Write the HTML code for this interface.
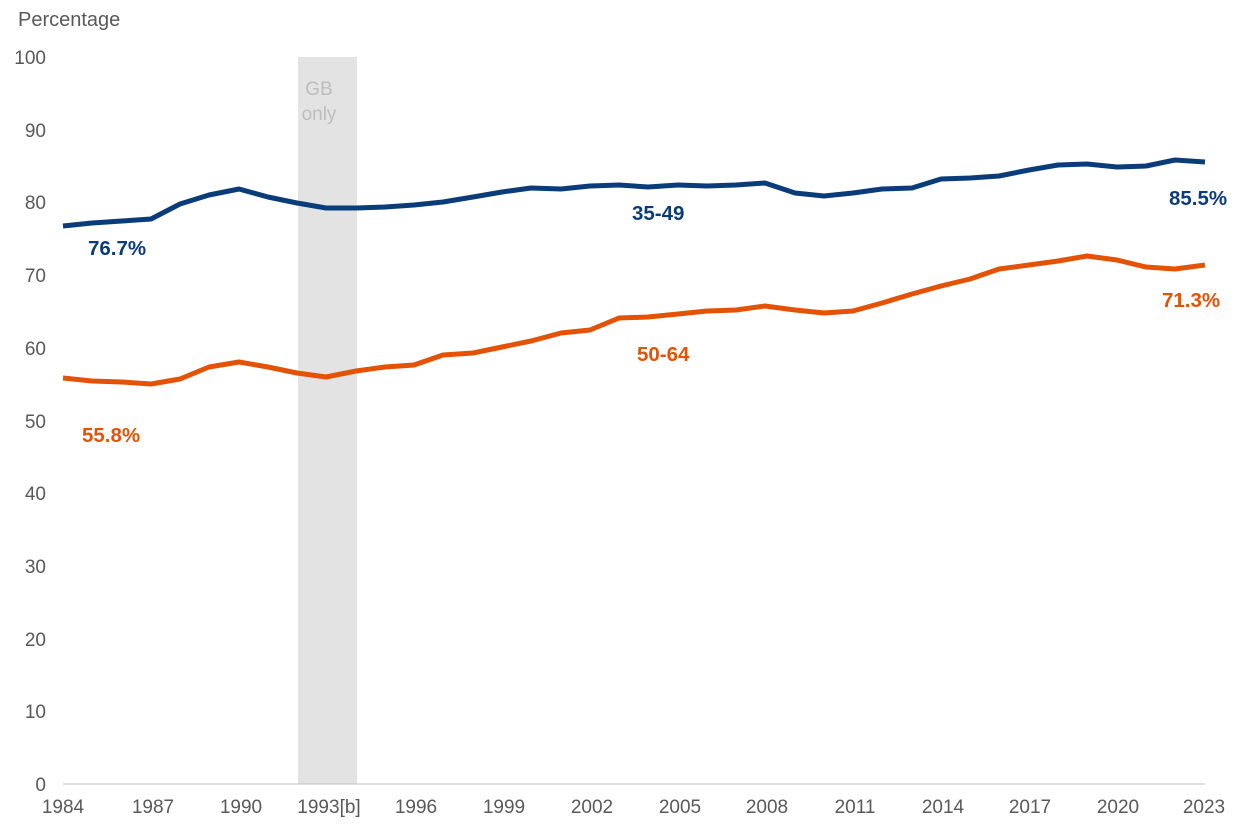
<!DOCTYPE html>
<html><head><meta charset="utf-8"><style>
html,body{margin:0;padding:0;background:#fff;}
svg{display:block;font-family:"Liberation Sans",Arial,sans-serif;}
</style></head><body>
<svg width="1248" height="831" viewBox="0 0 1248 831" xmlns="http://www.w3.org/2000/svg">
<rect x="298" y="57" width="59" height="727" fill="#e3e3e3"/>
<text x="319" y="95" font-size="19" fill="#bdbdbd" text-anchor="middle">GB</text>
<text x="319" y="120" font-size="19" fill="#bdbdbd" text-anchor="middle">only</text>
<text x="18" y="26" font-size="20" fill="#595959">Percentage</text>
<g font-size="19" fill="#595959" text-anchor="end">
<text x="46" y="64">100</text><text x="46" y="137">90</text><text x="46" y="209">80</text>
<text x="46" y="282">70</text><text x="46" y="355">60</text><text x="46" y="428">50</text>
<text x="46" y="500">40</text><text x="46" y="573">30</text><text x="46" y="646">20</text>
<text x="46" y="718">10</text><text x="46" y="791">0</text>
</g>
<line x1="63" y1="784" x2="1205" y2="784" stroke="#bfbfbf" stroke-width="1"/>
<g font-size="19" fill="#595959" text-anchor="middle">
<text x="63" y="813">1984</text><text x="153" y="813">1987</text><text x="241" y="813">1990</text>
<text x="329" y="813">1993[b]</text><text x="416" y="813">1996</text><text x="504" y="813">1999</text>
<text x="592" y="813">2002</text><text x="680" y="813">2005</text><text x="767" y="813">2008</text>
<text x="855" y="813">2011</text><text x="943" y="813">2014</text><text x="1030" y="813">2017</text>
<text x="1118" y="813">2020</text><text x="1204" y="813">2023</text>
</g>
<polyline fill="none" stroke="#0b3c7a" stroke-width="5" stroke-linejoin="round" points="63,226 92,223 122,221 151,219 180,204 209,195 239,189 268,197 297,203 326,208 356,208 385,207 414,205 443,202 473,197 502,192 531,188 561,189 590,186 619,185 648,187 678,185 707,186 736,185 765,183 795,193 824,196 853,193 882,189 912,188 941,179 970,178 999,176 1029,170 1058,165 1087,164 1117,167 1146,166 1175,160 1205,162"/>
<polyline fill="none" stroke="#e35205" stroke-width="5" stroke-linejoin="round" points="63,378 92,381 122,382 151,384 180,379 209,367 239,362 268,367 297,373 326,377 356,371 385,367 414,365 443,355 473,353 502,347 531,341 561,333 590,330 619,318 648,317 678,314 707,311 736,310 765,306 795,310 824,313 853,311 882,303 912,294 941,286 970,279 999,269 1029,265 1058,261 1087,256 1117,260 1146,267 1175,269 1205,265"/>
<g font-size="20.5" font-weight="bold">
<text x="88" y="255" fill="#0b3c7a">76.7%</text>
<text x="632" y="220" fill="#0b3c7a">35-49</text>
<text x="1169" y="205" fill="#0b3c7a">85.5%</text>
<text x="82" y="442" fill="#e35205">55.8%</text>
<text x="637" y="361" fill="#e35205">50-64</text>
<text x="1162" y="307" fill="#e35205">71.3%</text>
</g>
</svg>
</body></html>
